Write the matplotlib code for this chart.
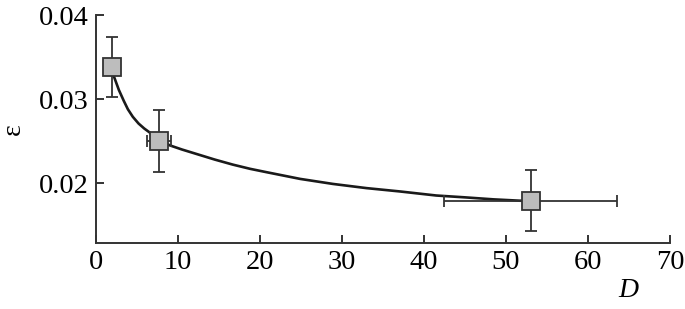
import matplotlib
matplotlib.use('Agg')
import matplotlib.pyplot as plt

# measured points
d = [2.0, 7.7, 53.0]
eps = [0.0338, 0.0250, 0.0179]
d_err = [0.0, 1.5, 10.6]
eps_err = [0.0036, 0.0037, 0.0036]

# fitted curve
curve_d = [2.2, 2.8, 3.4, 3.9, 4.5, 5.2, 5.9, 6.6, 7.7, 9.0, 10.5, 12.5,
           14.5, 16.7, 18.8, 20.8, 24.9, 28.9, 33.0, 37.1, 41.5, 45.0, 48.5,
           51.7, 53.0]
curve_eps = [0.0327, 0.0311, 0.0298, 0.0288, 0.0279, 0.0271, 0.0265, 0.0260,
             0.0252, 0.0245, 0.0240, 0.0234, 0.0228, 0.0222, 0.0217, 0.0213,
             0.0205, 0.0199, 0.0194, 0.0190, 0.01852, 0.0183, 0.01806,
             0.0179, 0.0179]

x_ticks = [0, 10, 20, 30, 40, 50, 60, 70]
y_ticks = [0.02, 0.03, 0.04]

plt.rcParams['font.family'] = ['Liberation Serif', 'DejaVu Serif']

fig = plt.figure(figsize=(6.85, 3.09), dpi=100)
ax = fig.add_axes([0.140, 0.2136, 0.838, 0.737])

ax.plot(curve_d, curve_eps, color='#1a1a1a', lw=1.9, zorder=2)
ax.errorbar(d, eps, xerr=d_err, yerr=eps_err, fmt='s', ms=13,
            mfc='#bdbdbd', mec='#333333', mew=1.3, ecolor='#333333',
            elinewidth=1.3, capsize=4, capthick=1.3, zorder=3)

ax.set_xlim(0, 70)
ax.set_ylim(0.01286, 0.04)
ax.set_xticks(x_ticks)
ax.set_yticks(y_ticks)
ax.set_yticklabels(['0.02', '0.03', '0.04'])

for s in ['top', 'right']:
    ax.spines[s].set_visible(False)
for s in ['left', 'bottom']:
    ax.spines[s].set_linewidth(1.4)
    ax.spines[s].set_color('#333333')
ax.tick_params(direction='in', length=6, width=1.4, color='#333333',
               labelsize=20.5, pad=5)

ax.set_ylabel('ε', fontsize=20, rotation=90)
ax.yaxis.set_label_coords(-0.122, 0.5)
fig.text(0.917, 0.06, 'D', fontsize=20, style='italic', ha='center', va='center')

fig.savefig('out.png', dpi=100)
